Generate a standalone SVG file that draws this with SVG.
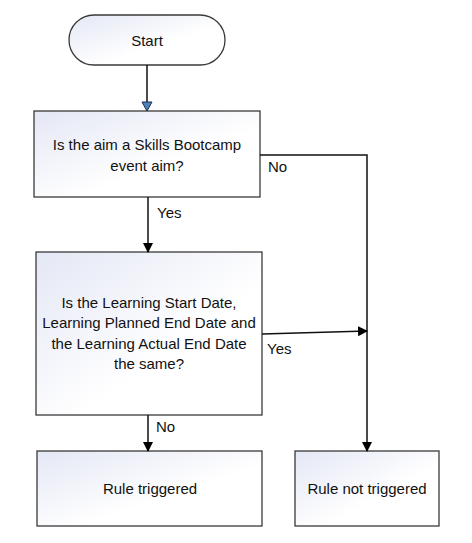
<svg xmlns="http://www.w3.org/2000/svg" width="472" height="543" viewBox="0 0 472 543">
<defs>
<linearGradient id="g" x1="0" y1="0" x2="1" y2="1">
<stop offset="0" stop-color="#e4e7f5"/>
<stop offset="0.6" stop-color="#ffffff"/>
</linearGradient>
<marker id="ab" markerWidth="10" markerHeight="10" refX="9" refY="5" orient="auto" markerUnits="userSpaceOnUse">
<path d="M0,0 L10,5 L0,10 Z" fill="#000"/>
</marker>
<marker id="abl" markerWidth="12" markerHeight="12" refX="10" refY="6" orient="auto" markerUnits="userSpaceOnUse">
<path d="M1,1 L10,6 L1,11 Z" fill="#4f81bd" stroke="#1f2f4f" stroke-width="1"/>
</marker>
<style>
.box{fill:url(#g);stroke:#3a3a3a;stroke-width:1.3}
.t{font-family:"Liberation Sans",Arial,sans-serif;font-size:15px;fill:#111;text-anchor:middle}
.l{font-family:"Liberation Sans",Arial,sans-serif;font-size:15px;fill:#111}
.c{fill:none;stroke:#111;stroke-width:1.5}
</style>
</defs>
<rect width="472" height="543" fill="#fff"/>
<g id="start">
<rect class="box" x="69" y="15" width="156" height="50" rx="25" ry="25"/>
<text class="t" x="147" y="45.5">Start</text>
</g>
<g id="q1">
<rect class="box" x="34" y="111" width="226" height="86"/>
<text class="t" x="147" y="149.5">Is the aim a Skills Bootcamp</text>
<text class="t" x="147" y="170.5">event aim?</text>
</g>
<g id="q2">
<rect class="box" x="36" y="252" width="226" height="163"/>
<text class="t" x="149" y="307.5">Is the Learning Start Date,</text>
<text class="t" x="149" y="328">Learning Planned End Date and</text>
<text class="t" x="149" y="348.5">the Learning Actual End Date</text>
<text class="t" x="149" y="369">the same?</text>
</g>
<g id="triggered">
<rect class="box" x="37" y="451" width="225" height="75"/>
<text class="t" x="150" y="493.5">Rule triggered</text>
</g>
<g id="nottriggered">
<rect class="box" x="295" y="451" width="144" height="75"/>
<text class="t" x="367" y="493.5">Rule not triggered</text>
</g>
<g id="connectors">
<path class="c" d="M147,65 V111" marker-end="url(#abl)"/>
<path class="c" d="M148,197 V252" marker-end="url(#ab)"/>
<path class="c" d="M260,155 H367 V451" marker-end="url(#ab)"/>
<path class="c" d="M262,334 L367,331" marker-end="url(#ab)"/>
<path class="c" d="M148,415 V451" marker-end="url(#ab)"/>
<text class="l" x="268" y="171.5">No</text>
<text class="l" x="157" y="217.5">Yes</text>
<text class="l" x="267" y="353.5">Yes</text>
<text class="l" x="156" y="431.5">No</text>
</g>
</svg>
